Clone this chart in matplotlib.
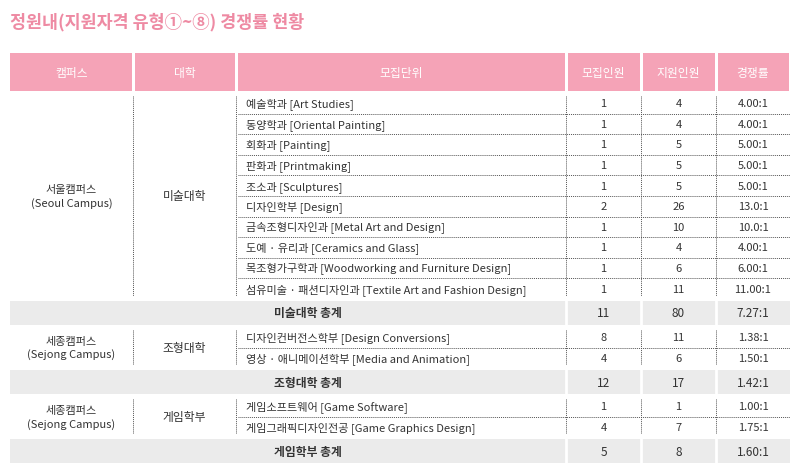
import matplotlib
matplotlib.use("Agg")
import matplotlib.pyplot as plt
from matplotlib.patches import Rectangle
from matplotlib import font_manager

avail = {f.name for f in font_manager.fontManager.ttflist}
fam = [f for f in ["Noto Sans CJK KR", "Noto Sans CJK JP", "Noto Sans CJK SC"] if f in avail] + ["DejaVu Sans"]
plt.rcParams['font.family'] = fam

title = "정원내(지원자격 유형①~⑧) 경쟁률 현황"
headers = ["캠퍼스", "대학", "모집단위", "모집인원", "지원인원", "경쟁률"]
groups = [
    ("서울캠퍼스\n(Seoul Campus)", "미술대학", "미술대학 총계"),
    ("세종캠퍼스\n(Sejong Campus)", "조형대학", "조형대학 총계"),
    ("세종캠퍼스\n(Sejong Campus)", "게임학부", "게임학부 총계"),
]
units = [
    ["예술학과 [Art Studies]", "동양학과 [Oriental Painting]", "회화과 [Painting]",
     "판화과 [Printmaking]", "조소과 [Sculptures]", "디자인학부 [Design]",
     "금속조형디자인과 [Metal Art and Design]", "도예 · 유리과 [Ceramics and Glass]",
     "목조형가구학과 [Woodworking and Furniture Design]",
     "섬유미술 · 패션디자인과 [Textile Art and Fashion Design]"],
    ["디자인컨버전스학부 [Design Conversions]", "영상 · 애니메이션학부 [Media and Animation]"],
    ["게임소프트웨어 [Game Software]", "게임그래픽디자인전공 [Game Graphics Design]"],
]
quota = [[1, 1, 1, 1, 1, 2, 1, 1, 1, 1], [8, 4], [1, 4]]
applicants = [[4, 4, 5, 5, 5, 26, 10, 4, 6, 11], [11, 6], [1, 7]]
ratios = [["4.00:1", "4.00:1", "5.00:1", "5.00:1", "5.00:1", "13.0:1", "10.0:1", "4.00:1", "6.00:1", "11.00:1"],
          ["1.38:1", "1.50:1"], ["1.00:1", "1.75:1"]]
tot_quota = [11, 12, 5]
tot_app = [80, 17, 8]
tot_ratio = ["7.27:1", "1.42:1", "1.60:1"]

PINK = "#f5a3b7"
TXT = "#333333"
fig = plt.figure(figsize=(8, 4.77), dpi=100)
ax = fig.add_axes([0, 0, 1, 1])
ax.set_xlim(0, 800); ax.set_ylim(477, 0); ax.axis('off')

ax.text(10, 22, title, color="#ee8aa3", fontsize=12.5, fontweight='bold', va='center', ha='left')

xs = [10, 133, 236, 566, 641, 716, 790]
for i, h in enumerate(headers):
    ax.add_patch(Rectangle((xs[i] + (1.5 if i else 0), 54), xs[i+1]-xs[i]-(3 if i else 1.5), 38, color=PINK, lw=0))
    ax.text((xs[i]+xs[i+1])/2, 73, h, ha='center', va='center', color='white', fontsize=8.5)

rh = 20.6
th = 24
y = 94
fs = 8
for g, (camp, col, tname) in enumerate(groups):
    n = len(units[g])
    y0 = y
    for r in range(n):
        yc = y + rh/2
        ax.text(xs[2]+10, yc, units[g][r], ha='left', va='center', fontsize=fs, color=TXT)
        ax.text((xs[3]+xs[4])/2, yc, str(quota[g][r]), ha='center', va='center', fontsize=fs, color=TXT)
        ax.text((xs[4]+xs[5])/2, yc, str(applicants[g][r]), ha='center', va='center', fontsize=fs, color=TXT)
        ax.text((xs[5]+xs[6])/2, yc, ratios[g][r], ha='center', va='center', fontsize=fs, color=TXT)
        if r < n-1:
            ax.plot([xs[2]+2, xs[6]], [y+rh, y+rh], ls=(0, (1, 1)), lw=0.7, color='#555555')
        y += rh
    for xv in xs[1:6]:
        ax.plot([xv, xv], [y0+3, y-3], ls=(0, (1, 1)), lw=0.7, color='#555555')
    ax.text((xs[0]+xs[1])/2, (y0+y)/2, camp, ha='center', va='center', fontsize=fs, color=TXT, linespacing=1.3)
    ax.text((xs[1]+xs[2])/2, (y0+y)/2, col, ha='center', va='center', fontsize=fs+0.5, color=TXT)
    y += 2
    ax.add_patch(Rectangle((xs[0], y), xs[6]-xs[0], th, color='#ebebeb', lw=0))
    for xv in xs[3:6]:
        ax.plot([xv, xv], [y, y+th], color='white', lw=2)
    yc = y + th/2
    ax.text((xs[0]+xs[3])/2 + 20, yc, tname, ha='center', va='center', fontsize=fs+0.5, fontweight='bold', color=TXT)
    ax.text((xs[3]+xs[4])/2, yc, str(tot_quota[g]), ha='center', va='center', fontsize=fs+0.5, color=TXT)
    ax.text((xs[4]+xs[5])/2, yc, str(tot_app[g]), ha='center', va='center', fontsize=fs+0.5, color=TXT)
    ax.text((xs[5]+xs[6])/2, yc, tot_ratio[g], ha='center', va='center', fontsize=fs+0.5, color=TXT)
    y += th + 2

fig.savefig("out.png", dpi=100)
